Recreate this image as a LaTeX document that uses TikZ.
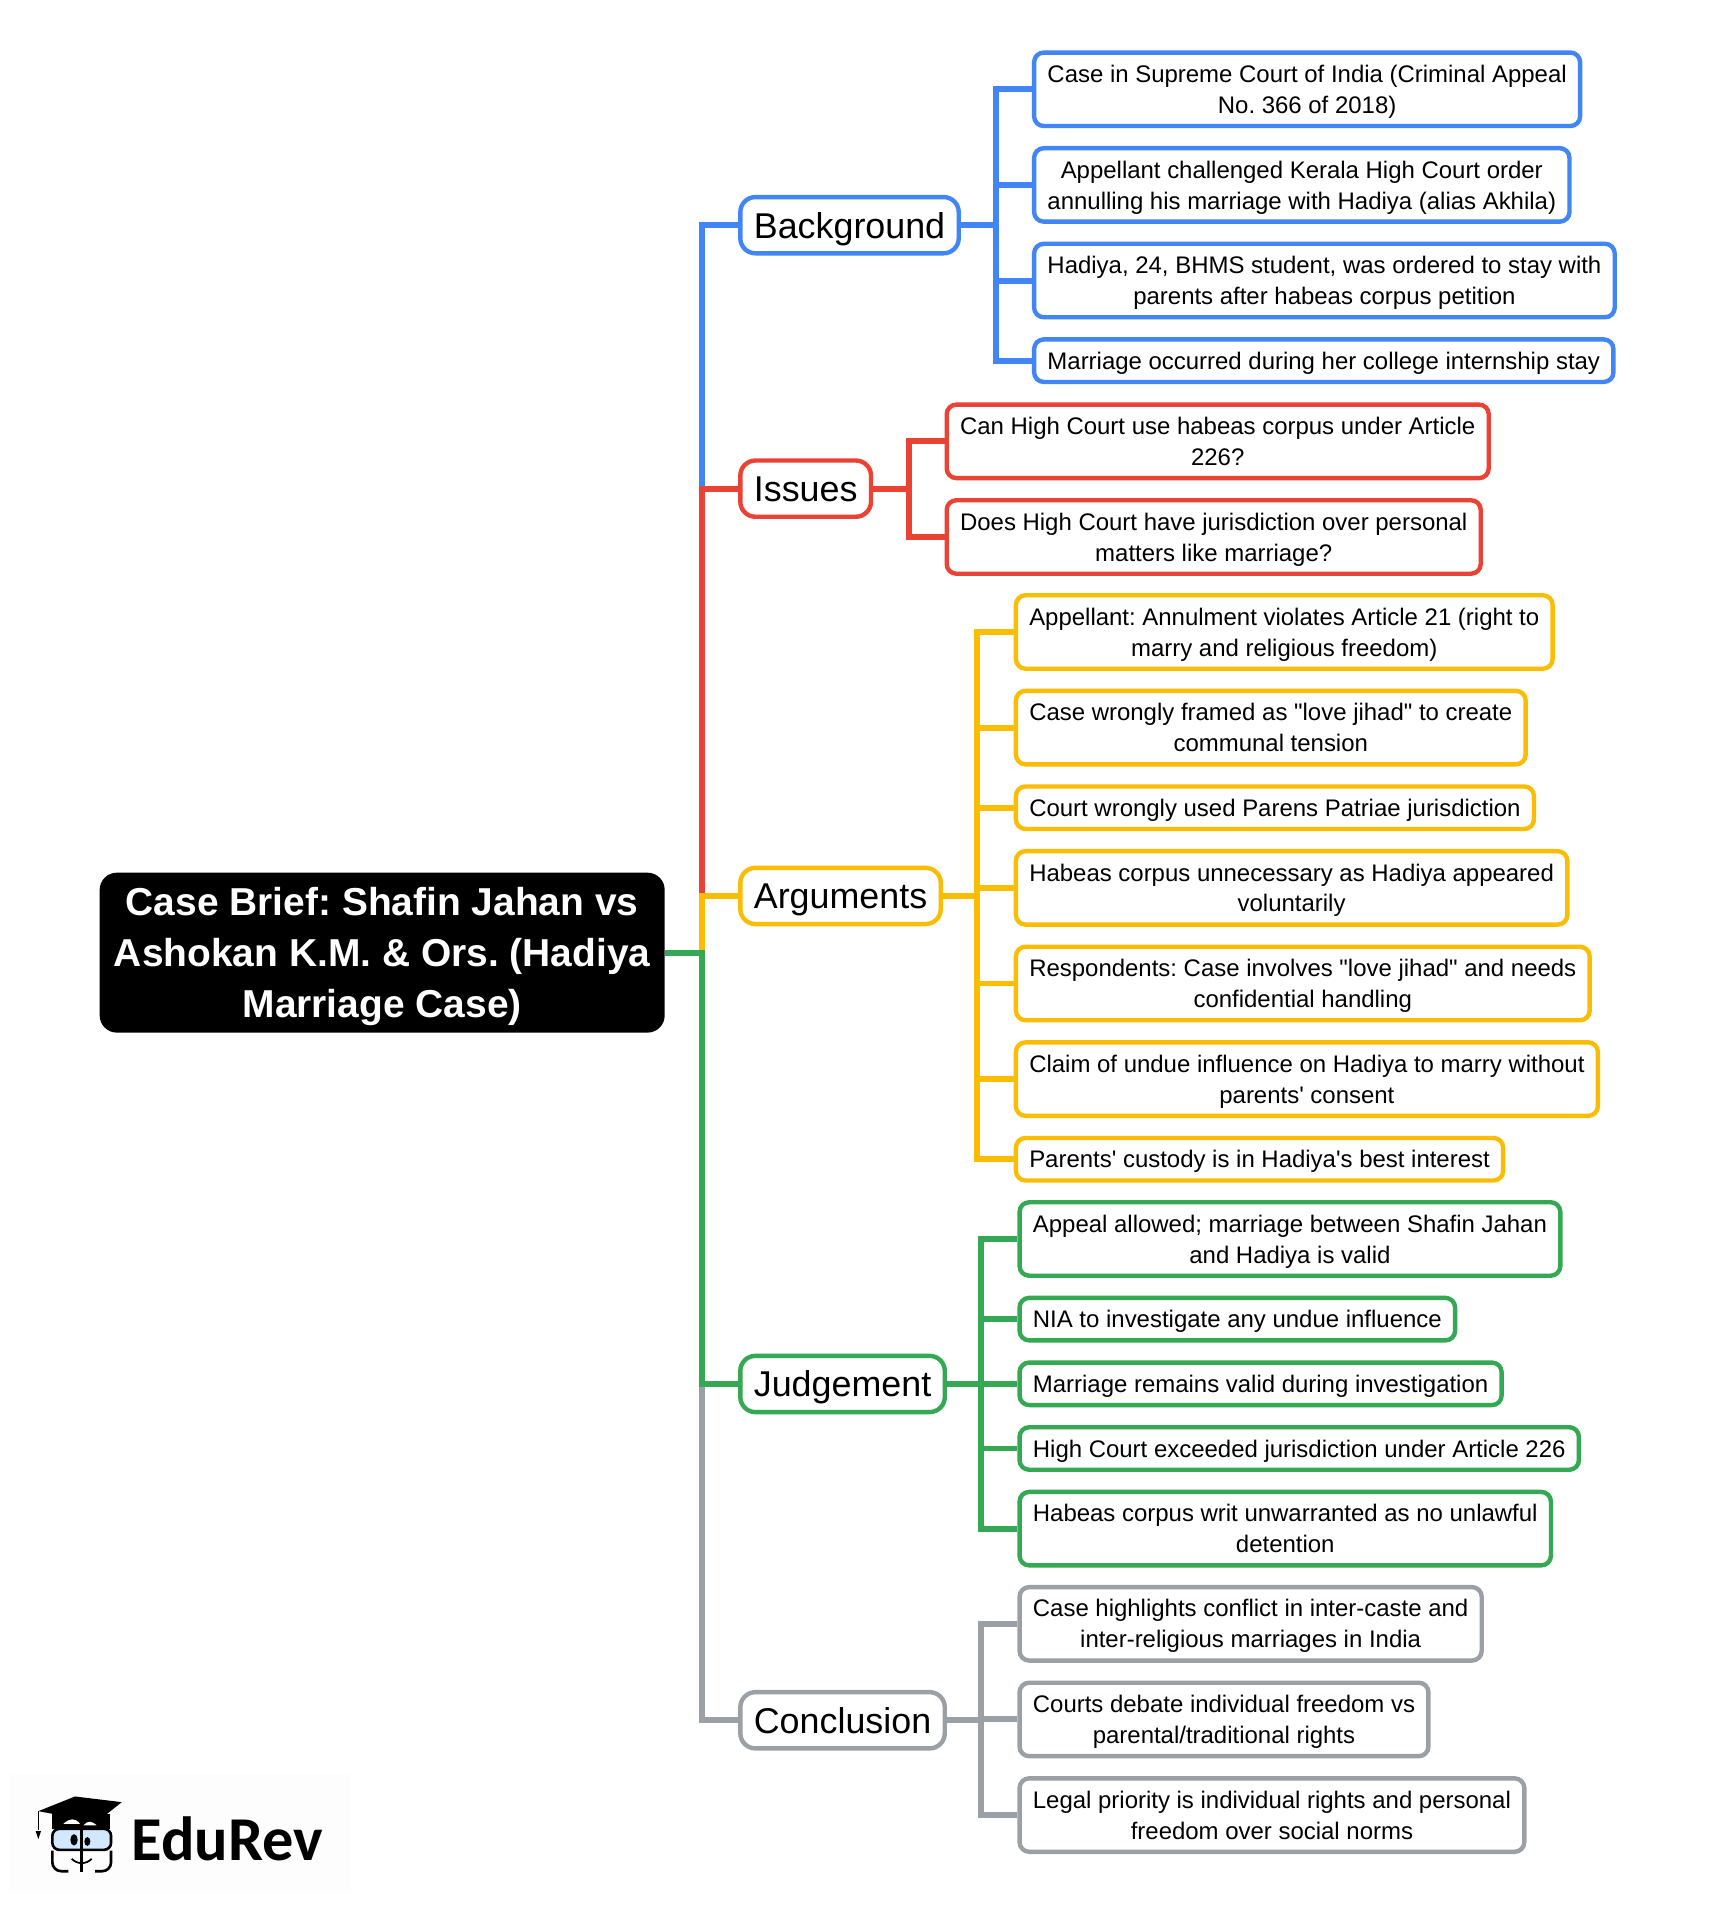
\documentclass[tikz,border=0pt]{standalone}
\usepackage{fontspec}
\setmainfont[Ligatures=TeXOff]{Liberation Sans}
\newfontfamily\logofont{Carlito}
\usetikzlibrary{positioning}
\definecolor{gblue}{HTML}{4285F4}
\definecolor{gred}{HTML}{EA4335}
\definecolor{gyellow}{HTML}{FBBC04}
\definecolor{ggreen}{HTML}{34A853}
\definecolor{ggrey}{HTML}{9AA0A6}
\newcommand{\ls}{\rule[-3.9pt]{0pt}{17.6pt}}
\tikzstyle{rootbox} = [rectangle, rounded corners=9.8pt, minimum width=321.5pt, minimum height=91pt, align=center, fill=black, text=white, font=\fontsize{22.15}{29}\selectfont\bfseries]
\tikzstyle{branch} = [rectangle, rounded corners=8.6pt, minimum height=32pt, text height=14.8pt, text depth=0pt, inner xsep=7.7pt, inner ysep=0pt, line width=2.5pt, fill=white, font=\fontsize{20.4}{24}\selectfont, anchor=west]
\tikzstyle{leaf} = [rectangle, rounded corners=5.5pt, inner xsep=7.6pt, inner ysep=3.3pt, line width=2.5pt, align=center, fill=white, font=\fontsize{13.63}{17.6}\selectfont]
\tikzstyle{link} = [line width=3.4pt, line join=miter]
\begin{document}
\frenchspacing
\begin{tikzpicture}[x=0.02428cm, y=-0.02428cm, node distance=10.1pt]
  \useasboundingbox (0,0) rectangle (1416,1570);
  \node (root) [rootbox] at (314.8,784.7) {\strut Case Brief: Shafin Jahan vs\\Ashokan K.M. \& Ors. (Hadiya\\Marriage Case)};
  \node (bg) [branch, draw=gblue] at (608,185.5) {Background};
  \node (iss) [branch, draw=gred] at (608,402.5) {Issues};
  \node (arg) [branch, draw=gyellow] at (608,738) {Arguments};
  \node (jud) [branch, draw=ggreen] at (608,1140) {Judgement};
  \node (con) [branch, draw=ggrey] at (608,1417) {Conclusion};
  % background
  \node (bg1) [leaf, draw=gblue, anchor=north west] at (850,41.5) {\ls Case in Supreme Court of India (Criminal Appeal\\No. 366 of 2018)\ls};
  \node (bg2) [leaf, draw=gblue, below=of bg1.south west, anchor=north west] {\ls Appellant challenged Kerala High Court order\\annulling his marriage with Hadiya (alias Akhila)\ls};
  \node (bg3) [leaf, draw=gblue, below=of bg2.south west, anchor=north west] {\ls Hadiya, 24, BHMS student, was ordered to stay with\\parents after habeas corpus petition\ls};
  \node (bg4) [leaf, draw=gblue, below=of bg3.south west, anchor=north west] {\ls Marriage occurred during her college internship stay};
  % issues
  \node (iss1) [leaf, draw=gred, anchor=north west] at (778,331.5) {\ls Can High Court use habeas corpus under Article\\226?\ls};
  \node (iss2) [leaf, draw=gred, below=of iss1.south west, anchor=north west] {\ls Does High Court have jurisdiction over personal\\matters like marriage?\ls};
  % arguments
  \node (arg1) [leaf, draw=gyellow, anchor=north west] at (835,488.5) {\ls Appellant: Annulment violates Article 21 (right to\\marry and religious freedom)\ls};
  \node (arg2) [leaf, draw=gyellow, below=of arg1.south west, anchor=north west] {\ls Case wrongly framed as "love jihad" to create\\communal tension\ls};
  \node (arg3) [leaf, draw=gyellow, below=of arg2.south west, anchor=north west] {\ls Court wrongly used Parens Patriae jurisdiction};
  \node (arg4) [leaf, draw=gyellow, below=of arg3.south west, anchor=north west] {\ls Habeas corpus unnecessary as Hadiya appeared\\voluntarily\ls};
  \node (arg5) [leaf, draw=gyellow, below=of arg4.south west, anchor=north west] {\ls Respondents: Case involves "love jihad" and needs\\confidential handling\ls};
  \node (arg6) [leaf, draw=gyellow, below=of arg5.south west, anchor=north west] {\ls Claim of undue influence on Hadiya to marry without\\parents' consent\ls};
  \node (arg7) [leaf, draw=gyellow, below=of arg6.south west, anchor=north west] {\ls Parents' custody is in Hadiya's best interest};
  % judgement
  \node (jud1) [leaf, draw=ggreen, anchor=north west] at (838,988.5) {\ls Appeal allowed; marriage between Shafin Jahan\\and Hadiya is valid\ls};
  \node (jud2) [leaf, draw=ggreen, below=of jud1.south west, anchor=north west] {\ls NIA to investigate any undue influence};
  \node (jud3) [leaf, draw=ggreen, below=of jud2.south west, anchor=north west] {\ls Marriage remains valid during investigation};
  \node (jud4) [leaf, draw=ggreen, below=of jud3.south west, anchor=north west] {\ls High Court exceeded jurisdiction under Article 226};
  \node (jud5) [leaf, draw=ggreen, below=of jud4.south west, anchor=north west] {\ls Habeas corpus writ unwarranted as no unlawful\\detention\ls};
  % conclusion
  \node (con1) [leaf, draw=ggrey, anchor=north west] at (838,1305.5) {\ls Case highlights conflict in inter-caste and\\inter-religious marriages in India\ls};
  \node (con2) [leaf, draw=ggrey, below=of con1.south west, anchor=north west] {\ls Courts debate individual freedom vs\\parental/traditional rights\ls};
  \node (con3) [leaf, draw=ggrey, below=of con2.south west, anchor=north west] {\ls Legal priority is individual rights and personal\\freedom over social norms\ls};
  % connectors
  \coordinate (trunk) at (578.5,784.7);
  \draw [link, gblue] (root.east) -- (trunk) |- (bg.west);
  \draw [link, gred] (root.east) -- (trunk) |- (iss.west);
  \draw [link, gyellow] (root.east) -- (trunk) |- (arg.west);
  \draw [link, ggrey] (root.east) -- (trunk) |- (con.west);
  \draw [link, ggreen] (root.east) -- (trunk) |- (jud.west);
  \coordinate (bgbus) at (820.5,185.5);
  \coordinate (issbus) at (748.5,402.5);
  \coordinate (argbus) at (805,738);
  \coordinate (judbus) at (808,1140);
  \coordinate (conbus) at (808,1417);
  \foreach \leafname in {bg1,bg2,bg3,bg4}
    \draw [link, gblue] (bg.east) -- (bgbus) |- (\leafname.west);
  \foreach \leafname in {iss1,iss2}
    \draw [link, gred] (iss.east) -- (issbus) |- (\leafname.west);
  \foreach \leafname in {arg1,arg2,arg3,arg4,arg5,arg6,arg7}
    \draw [link, gyellow] (arg.east) -- (argbus) |- (\leafname.west);
  \foreach \leafname in {jud1,jud2,jud3,jud4,jud5}
    \draw [link, ggreen] (jud.east) -- (judbus) |- (\leafname.west);
  \foreach \leafname in {con1,con2,con3}
    \draw [link, ggrey] (con.east) -- (conbus) |- (\leafname.west);
  % logo
  \fill [black!0.6] (8,1461) rectangle (288,1558);
  \node (logo) [anchor=west, inner sep=0pt, font=\logofont\fontsize{35.5}{38}\selectfont\bfseries] at (108,1515) {EduRev};
  \begin{scope}[shift={(0,1450.1)}, scale=0.2747]
    \fill (157,160) rectangle (330,205);
    \fill [white] (190,190) .. controls (210,172) and (225,172) .. (240,190) -- cycle;
    \fill [white] (250,195) .. controls (262,180) and (275,180) .. (290,195) -- cycle;
    \fill (115,152) -- (225,108) -- (365,125) -- (290,185) -- cycle;
    \draw [line width=0.9pt] (115,152) -- (115,210);
    \fill (107,212) -- (123,212) -- (115,236) -- cycle;
    \draw [line width=1.5pt, rounded corners=4pt, fill=blue!50!cyan!18] (157,205) rectangle (333,268);
    \draw [line width=1.5pt, rounded corners=5pt] (157,270) -- (157,332) -- (205,332);
    \draw [line width=1.5pt, rounded corners=5pt] (333,270) -- (333,332) -- (285,332);
    \draw [line width=1.5pt] (245,198) -- (245,334);
    \fill (222,238) ellipse [x radius=11, y radius=17];
    \fill (262,243) ellipse [x radius=9, y radius=13];
    \draw [line width=1pt] (215,295) .. controls (232,312) and (258,312) .. (275,295);
  \end{scope}
\end{tikzpicture}
\end{document}
